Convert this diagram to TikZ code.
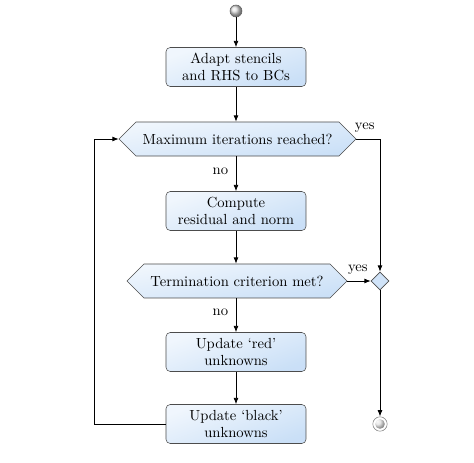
\documentclass[tikz,border=0pt]{standalone}
\usetikzlibrary{arrows.meta,positioning,shapes.geometric,shapes.symbols}
\definecolor{boxblue}{RGB}{196,220,246}

\begin{document}
\begin{tikzpicture}[>={Latex[length=4.5pt,width=3.5pt]},
  every node/.style={font=\fontsize{10.4pt}{12.6pt}\selectfont},
  actbox/.style={draw=black!70,rounded corners=3pt,top color=boxblue!25,bottom color=boxblue!90,shading angle=20,
    minimum width=3.5cm,minimum height=0.975cm,align=center,inner sep=2pt},
  testbox/.style={draw=black!70,signal,signal to=west and east,top color=boxblue!25,bottom color=boxblue!90,shading angle=10,
    minimum height=0.85cm,inner sep=2pt},
  mergebox/.style={draw=black!70,diamond,fill=boxblue!80,minimum size=0.45cm,inner sep=0pt},
  startdot/.style={circle,draw=black!60,shading=ball,ball color=gray!25,minimum size=0.3cm,inner sep=0pt},
  enddot/.style={circle,draw=black!50,fill=white,minimum size=0.36cm,inner sep=0pt,
    path picture={\shade[ball color=gray!25] (path picture bounding box.center) circle (0.12);}},
  flow/.style={->,semithick}]
\useasboundingbox (0,0) rectangle (11.85,-11.575);
\node[startdot] (n0) at (5.9,-0.275) {};
\node[actbox] (n1) at (5.9,-1.675) {Adapt stencils\\and RHS to BCs};
\node[testbox,minimum width=5.925cm] (n2) at (5.94,-3.475) {Maximum iterations reached?};
\node[actbox] (n3) at (5.9,-5.275) {Compute\\residual and norm};
\node[testbox,minimum width=5.5cm] (n4) at (5.925,-7.025) {Termination criterion met?};
\node[mergebox] (n5) at (9.5,-7.025) {};
\node[actbox] (n6) at (5.9,-8.8) {Update `red'\\unknowns};
\node[actbox] (n7) at (5.9,-10.6) {Update `black'\\unknowns};
\node[enddot] (n8) at (9.5,-10.6) {};
\coordinate (c0) at (2.35,-3.475);
\draw[flow] (n0) -- (n1);
\draw[flow] (n1) -- (n2.north -| n1);
\draw[flow] (n2.south -| n1) -- node[pos=0.42,left=2pt] {no} (n3);
\draw[flow] (n3) -- (n4.north -| n3);
\draw[flow] (n4.south -| n3) -- node[pos=0.4,left=2pt] {no} (n6);
\draw[flow] (n6) -- (n7);
\draw[flow] (n2.east) -- node[pos=0.35,above=1pt] {yes} (n2.east -| n5) -- (n5.north);
\draw[flow] (n4.east) -- node[pos=0.45,above=1pt] {yes} (n5.west);
\draw[flow] (n5.south) -- (n8);
\draw[flow] (n7.west) -- (n7.west -| c0) -- (c0) -- (n2.west);
\end{tikzpicture}
\end{document}
